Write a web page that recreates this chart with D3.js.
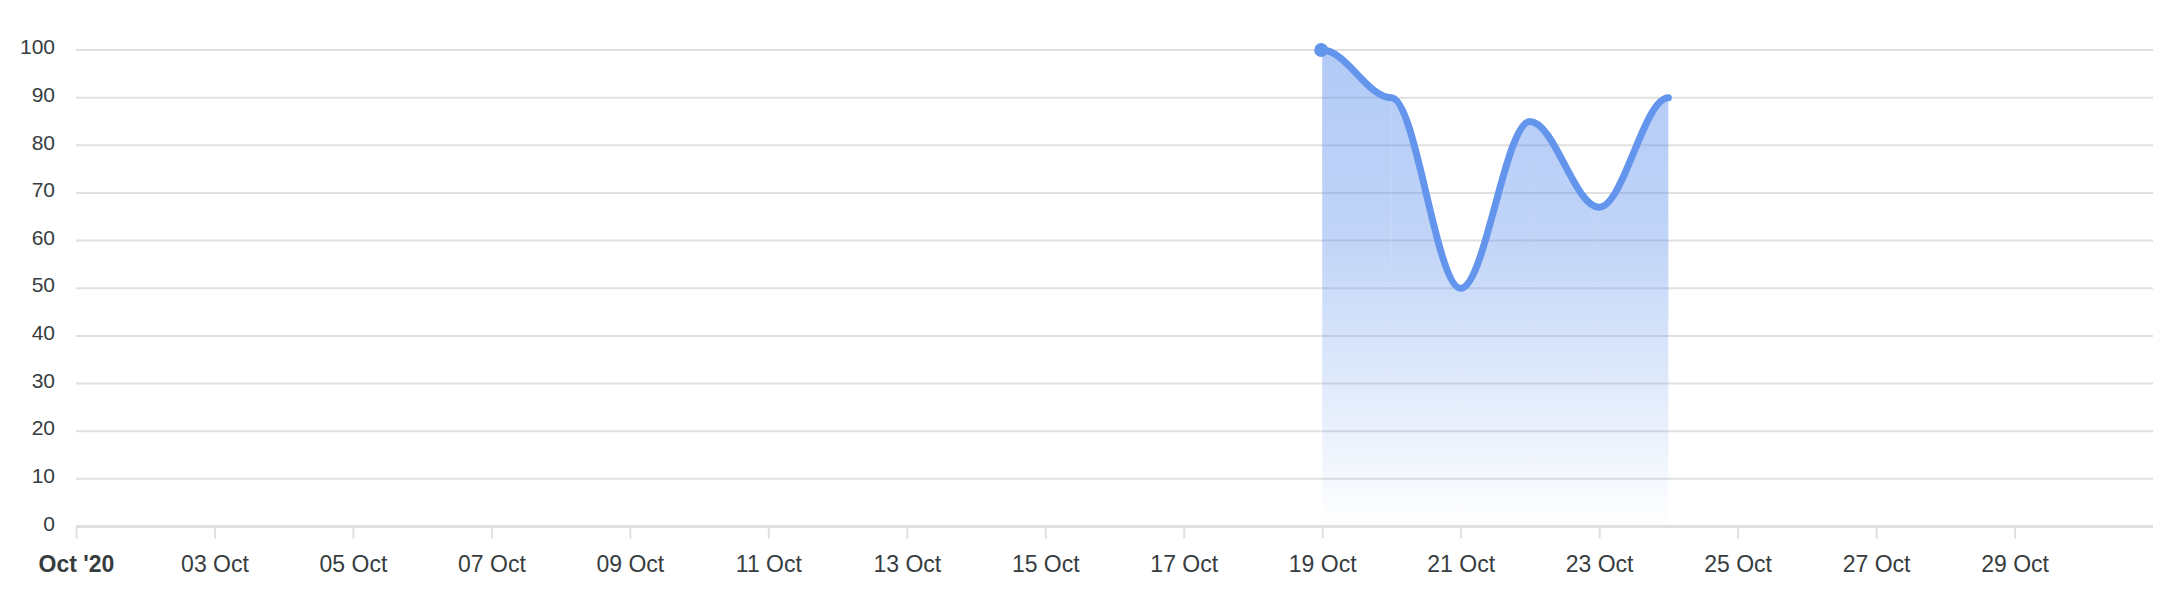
<!DOCTYPE html>
<html>
<head>
<meta charset="utf-8">
<script src="https://cdn.jsdelivr.net/npm/d3@7/dist/d3.min.js"></script>
<style>
  html, body { margin: 0; padding: 0; background: #fff; }
  svg { display: block; }
  text { font-family: "Liberation Sans", Arial, Helvetica, sans-serif; fill: #373d3f; }
</style>
</head>
<body>
<svg id="chart" width="2180" height="602"></svg>
<script>
// ---- data ----
const dates = ["2020-10-19", "2020-10-20", "2020-10-21", "2020-10-22", "2020-10-23", "2020-10-24"];
const values = [100, 90, 50, 85, 67, 90];
const yTicks = [0, 10, 20, 30, 40, 50, 60, 70, 80, 90, 100];
const xTickDates = ["2020-10-01", "2020-10-03", "2020-10-05", "2020-10-07", "2020-10-09", "2020-10-11", "2020-10-13", "2020-10-15", "2020-10-17", "2020-10-19", "2020-10-21", "2020-10-23", "2020-10-25", "2020-10-27", "2020-10-29"];
const xTickLabels = ["Oct '20", "03 Oct", "05 Oct", "07 Oct", "09 Oct", "11 Oct", "13 Oct", "15 Oct", "17 Oct", "19 Oct", "21 Oct", "23 Oct", "25 Oct", "27 Oct", "29 Oct"];
const xDomain = ["2020-10-01", "2020-10-31"];

const parse = d3.utcParse("%Y-%m-%d");
const data = dates.map((d, i) => ({ date: parse(d), value: values[i] }));

// smooth curve with horizontal tangents, control points at 35% of segment width
function SmoothCurve(context) { this._context = context; }
SmoothCurve.prototype = {
  areaStart() { this._line = 0; },
  areaEnd() { this._line = NaN; },
  lineStart() { this._point = 0; },
  lineEnd() {
    if (this._line || (this._line !== 0 && this._point === 1)) this._context.closePath();
    this._line = 1 - this._line;
  },
  point(x, y) {
    x = +x; y = +y;
    if (this._point === 0) {
      this._point = 1;
      if (this._line) this._context.lineTo(x, y); else this._context.moveTo(x, y);
    } else {
      this._point = 2;
      const L = (x - this._x0) * 0.35;
      this._context.bezierCurveTo(this._x0 + L, this._y0, x - L, y, x, y);
    }
    this._x0 = x; this._y0 = y;
  }
};
const smooth = ctx => new SmoothCurve(ctx);

const svg = d3.select("#chart");
const x = d3.scaleUtc().domain(xDomain.map(parse)).range([76, 2153]);
const y = d3.scaleLinear().domain([0, 100]).range([526.5, 50]);

const lineColor = "#6495ED";

// gradient
const defs = svg.append("defs");
const grad = defs.append("linearGradient")
  .attr("id", "areaGrad")
  .attr("gradientUnits", "userSpaceOnUse")
  .attr("x1", 0).attr("x2", 0)
  .attr("y1", y(100)).attr("y2", y(0));
grad.append("stop").attr("offset", "0%").attr("stop-color", lineColor).attr("stop-opacity", 0.5);
grad.append("stop").attr("offset", "40%").attr("stop-color", lineColor).attr("stop-opacity", 0.4);
grad.append("stop").attr("offset", "100%").attr("stop-color", lineColor).attr("stop-opacity", 0.0);

// gridlines
svg.append("g").selectAll("line")
  .data(yTicks.filter(t => t !== 0))
  .join("line")
  .attr("x1", x.range()[0]).attr("x2", x.range()[1])
  .attr("y1", d => y(d)).attr("y2", d => y(d))
  .attr("stroke", "#e0e0e0").attr("stroke-width", 2);

// y axis labels
const yAxis = d3.axisLeft(y).tickValues(yTicks).tickSize(0).tickPadding(0);
const yg = svg.append("g").attr("transform", "translate(55,-3)").call(yAxis);
yg.select(".domain").remove();
yg.selectAll("text").style("font-size", "21px").attr("fill", "#373d3f")
  .style("font-family", '"Liberation Sans", Arial, Helvetica, sans-serif');

// area segments
const area = d3.area().curve(smooth)
  .x(d => x(d.date)).y0(y(0)).y1(d => y(d.value));
const segs = d3.pairs(data);
svg.append("g").selectAll("path")
  .data(segs)
  .join("path")
  .attr("d", d => area(d))
  .attr("fill", "url(#areaGrad)");

// x axis
const xAxis = d3.axisBottom(x)
  .tickValues(xTickDates.map(parse))
  .tickSize(12)
  .tickPadding(17)
  .tickFormat((d, i) => xTickLabels[i]);
const xg = svg.append("g").attr("transform", `translate(0,${y(0)})`).call(xAxis);
xg.select(".domain").attr("stroke", "#e0e0e0").attr("stroke-width", 3)
  .attr("d", `M${x.range()[0]},0H${x.range()[1]}`);
xg.selectAll(".tick line").attr("stroke", "#e0e0e0").attr("stroke-width", 2);
xg.selectAll("text")
  .style("font-size", "23px")
  .style("font-family", '"Liberation Sans", Arial, Helvetica, sans-serif')
  .attr("fill", "#373d3f")
  .style("font-weight", (d, i) => i === 0 ? "bold" : "normal");

// line
const line = d3.line().curve(smooth)
  .x(d => x(d.date)).y(d => y(d.value));
svg.append("path")
  .datum(data)
  .attr("d", line)
  .attr("fill", "none")
  .attr("stroke", lineColor)
  .attr("stroke-width", 7)
  .attr("stroke-linecap", "round")
  .attr("stroke-linejoin", "round");

// start marker
svg.append("circle")
  .attr("cx", x(data[0].date) - 1)
  .attr("cy", y(data[0].value))
  .attr("r", 7)
  .attr("fill", lineColor);
</script>
</body>
</html>
